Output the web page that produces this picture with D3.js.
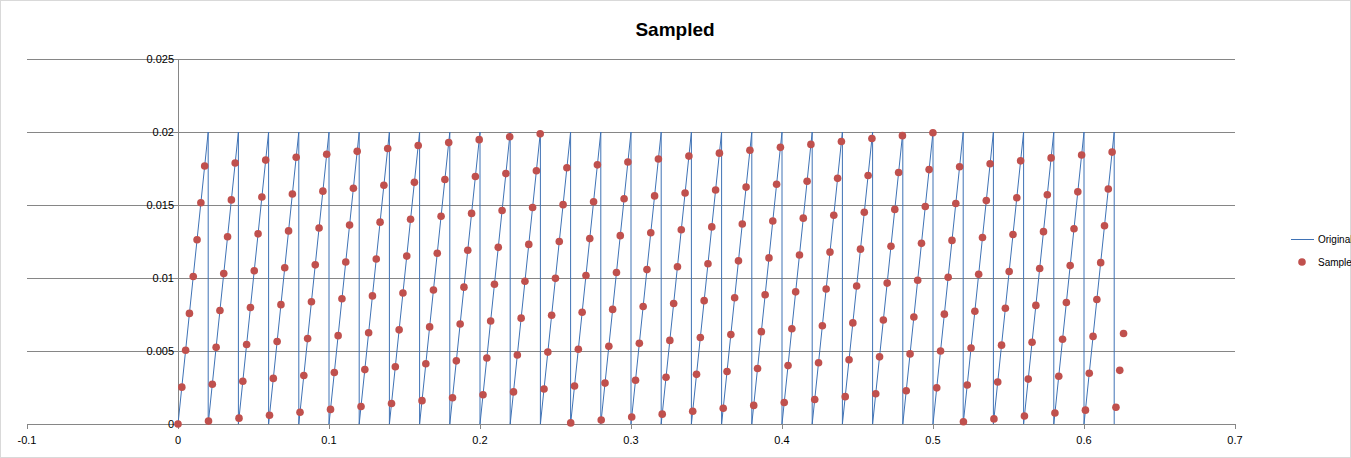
<!DOCTYPE html>
<html><head><meta charset="utf-8">
<script src="https://cdn.jsdelivr.net/npm/d3@7"></script>
<style>body{margin:0;background:#fff}svg{font-family:"Liberation Sans",Arial,sans-serif}</style>
</head><body>
<script>
const title = "Sampled";
const xTicks = [-0.1,0,0.1,0.2,0.3,0.4,0.5,0.6,0.7];
const yTicks = [0,0.005,0.01,0.015,0.02,0.025];
const yTickLabels = ["0","0.005","0.01","0.015","0.02","0.025"];
const legendLabels = ["Original","Sample"];
// Original sawtooth: period and number of teeth
const toothPeriod = 0.02;
const toothAmplitude = 0.02;
const toothCount = 31;
// Sample interval (s) and sampled values in units of 1e-4
const sampleStep = 0.002525;
const sampleValues = [
0,25.25,50.5,75.75,101,126.25,151.5,176.75,
2,27.25,52.5,77.75,103,128.25,153.5,178.75,
4,29.25,54.5,79.75,105,130.25,155.5,180.75,
6,31.25,56.5,81.75,107,132.25,157.5,182.75,
8,33.25,58.5,83.75,109,134.25,159.5,184.75,
10,35.25,60.5,85.75,111,136.25,161.5,186.75,
12,37.25,62.5,87.75,113,138.25,163.5,188.75,
14,39.25,64.5,89.75,115,140.25,165.5,190.75,
16,41.25,66.5,91.75,117,142.25,167.5,192.75,
18,43.25,68.5,93.75,119,144.25,169.5,194.75,
20,45.25,70.5,95.75,121,146.25,171.5,196.75,
22,47.25,72.5,97.75,123,148.25,173.5,198.75,
24,49.25,74.5,99.75,125,150.25,175.5,
0.75,26,51.25,76.5,101.75,127,152.25,177.5,
2.75,28,53.25,78.5,103.75,129,154.25,179.5,
4.75,30,55.25,80.5,105.75,131,156.25,181.5,
6.75,32,57.25,82.5,107.75,133,158.25,183.5,
8.75,34,59.25,84.5,109.75,135,160.25,185.5,
10.75,36,61.25,86.5,111.75,137,162.25,187.5,
12.75,38,63.25,88.5,113.75,139,164.25,189.5,
14.75,40,65.25,90.5,115.75,141,166.25,191.5,
16.75,42,67.25,92.5,117.75,143,168.25,193.5,
18.75,44,69.25,94.5,119.75,145,170.25,195.5,
20.75,46,71.25,96.5,121.75,147,172.25,197.5,
22.75,48,73.25,98.5,123.75,149,174.25,199.5,
24.75,50,75.25,100.5,125.75,151,176.25,
1.5,26.75,52,77.25,102.5,127.75,153,178.25,
3.5,28.75,54,79.25,104.5,129.75,155,180.25,
5.5,30.75,56,81.25,106.5,131.75,157,182.25,
7.5,32.75,58,83.25,108.5,133.75,159,184.25,
9.5,34.75,60,85.25,110.5,135.75,161,186.25,
11.5,36.75,62];

const W=1351,H=458;
const svg=d3.select("body").append("svg").attr("width",W).attr("height",H);
svg.append("rect").attr("x",0.5).attr("y",0.5).attr("width",W-1).attr("height",H-1).attr("fill","#fff").attr("stroke","#d9d9d9");
const x=d3.scaleLinear().domain([-0.1,0.7]).range([27,1235]);
const y=d3.scaleLinear().domain([0,0.025]).range([424,59]);

svg.append("text").attr("x",675).attr("y",36).attr("text-anchor","middle").attr("font-weight","bold").attr("font-size",19).text(title);

svg.append("g").selectAll("line").data(yTicks).join("line")
 .attr("x1",x(-0.1)).attr("x2",x(0.7)).attr("y1",d=>Math.round(y(d))+0.5).attr("y2",d=>Math.round(y(d))+0.5)
 .attr("stroke","#868686").attr("stroke-width",1);
svg.append("line").attr("x1",Math.round(x(0))+0.5).attr("x2",Math.round(x(0))+0.5).attr("y1",y(0.025)).attr("y2",y(0)+4).attr("stroke","#868686");
svg.append("g").selectAll("line").data(xTicks).join("line")
 .attr("x1",d=>Math.round(x(d))+0.5).attr("x2",d=>Math.round(x(d))+0.5).attr("y1",y(0)).attr("y2",y(0)+5).attr("stroke","#868686");
svg.append("g").selectAll("text").data(xTicks).join("text")
 .attr("x",d=>x(d)).attr("y",y(0)+20).attr("text-anchor","middle").attr("font-size",11).attr("fill","#000").text(d=>String(+d.toFixed(1)));
svg.append("g").selectAll("text").data(yTicks).join("text")
 .attr("x",x(0)-4).attr("y",d=>y(d)+4).attr("text-anchor","end").attr("font-size",11).attr("fill","#000").text((d,i)=>yTickLabels[i]);

const orig=[[0,0]];
d3.range(toothCount).forEach(k=>{
  const e=(k+1)*toothPeriod;
  orig.push([e,toothAmplitude]); orig.push([e,0]);
});
svg.append("path").datum(orig).attr("fill","none").attr("stroke","#3f72b5").attr("stroke-width",1)
 .attr("d",d3.line().x(d=>x(d[0])).y(d=>y(d[1])));

svg.append("g").selectAll("circle").data(sampleValues).join("circle")
 .attr("cx",(d,i)=>x(i*sampleStep)).attr("cy",d=>y(d/1e4)).attr("r",3.8).attr("fill","#c0504d");

svg.append("line").attr("x1",1291).attr("x2",1314).attr("y1",239.5).attr("y2",239.5).attr("stroke","#3f72b5");
svg.append("text").attr("x",1318).attr("y",243).attr("font-size",10).text(legendLabels[0]);
svg.append("circle").attr("cx",1302).attr("cy",262).attr("r",3.8).attr("fill","#c0504d");
svg.append("text").attr("x",1318).attr("y",266).attr("font-size",10).text(legendLabels[1]);
</script>
</body></html>
